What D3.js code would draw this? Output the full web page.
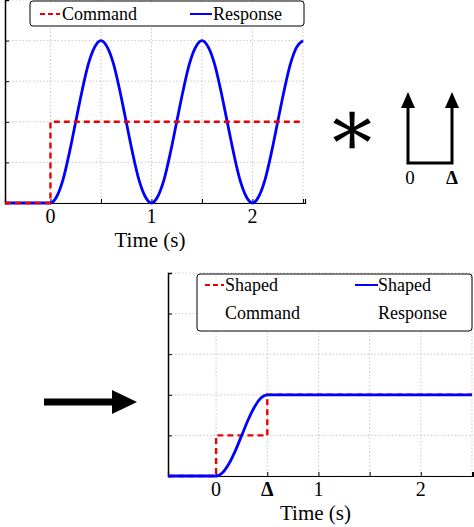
<!DOCTYPE html><html><head><meta charset="utf-8">
<script src="https://cdn.jsdelivr.net/npm/d3@7"></script>
<style>body{margin:0;background:#fff}text{font-family:"Liberation Serif","DejaVu Serif",serif}</style></head><body>
<svg id="c" width="474" height="527"></svg>
<script>
// Data
const yTicks=[0,0.5,1,1.5,2,2.5];
const gridX=[0,0.5,1,1.5,2,2.5];
const topTickLabels=[{v:0,t:"0"},{v:1,t:"1"},{v:2,t:"2"}];
const botTickLabels=[{v:0,t:"0"},{v:0.5,t:"Δ"},{v:1,t:"1"},{v:2,t:"2"}];
const command=[[-0.45,0],[0,0],[0,1],[2.5,1]];
const respT=[-0.45,0,0.0625,0.125,0.1875,0.25,0.3125,0.375,0.4375,0.5,0.5625,0.625,0.6875,0.75,0.8125,0.875,0.9375,1,1.0625,1.125,1.1875,1.25,1.3125,1.375,1.4375,1.5,1.5625,1.625,1.6875,1.75,1.8125,1.875,1.9375,2,2.0625,2.125,2.1875,2.25,2.3125,2.375,2.4375,2.5];
const respV=[0,0,0.08,0.29,0.62,1,1.38,1.71,1.92,2,1.92,1.71,1.38,1,0.62,0.29,0.08,0,0.08,0.29,0.62,1,1.38,1.71,1.92,2,1.92,1.71,1.38,1,0.62,0.29,0.08,0,0.08,0.29,0.62,1,1.38,1.71,1.92,2];
const shapedCmd=[[-0.47,0],[0,0],[0,0.5],[0.5,0.5],[0.5,1],[2.5,1]];
const shapedT=[-0.47,0,0.0625,0.125,0.1875,0.25,0.3125,0.375,0.4375,0.5,2.5];
const shapedV=[0,0,0.04,0.15,0.31,0.5,0.69,0.85,0.96,1,1];

const svg=d3.select("#c");
function panel(x0,x1,y0,y1,xd,ticks,ticksAll){
  const x=d3.scaleLinear().domain(xd).range([x0,x1]);
  const y=d3.scaleLinear().domain([0,2.5]).range([y1,y0]);
  const g=svg.append("g");
  g.selectAll(".gx").data(gridX).join("line").attr("x1",d=>x(d)).attr("x2",d=>x(d)).attr("y1",y0).attr("y2",y1)
   .attr("stroke","#bbb").attr("stroke-dasharray","1.5,2").attr("stroke-width",0.8);
  g.selectAll(".gy").data(yTicks).join("line").attr("x1",x0).attr("x2",x1).attr("y1",d=>y(d)).attr("y2",d=>y(d))
   .attr("stroke","#bbb").attr("stroke-dasharray","1.5,2").attr("stroke-width",0.8);
  g.append("g").attr("transform",`translate(${x0},0)`).call(d3.axisLeft(y).tickValues(yTicks).tickSize(-4).tickFormat(""))
   .call(a=>a.select(".domain").attr("stroke","#000").attr("stroke-width",1.5));
  g.append("g").attr("transform",`translate(0,${y1})`).call(d3.axisBottom(x).tickValues(ticksAll).tickSize(-4).tickFormat(""))
   .call(a=>a.select(".domain").attr("stroke","#000").attr("stroke-width",1.2));
  g.selectAll(".tl").data(ticks).join("text").attr("x",d=>x(d.v)).attr("y",y1+20).attr("text-anchor","middle")
   .attr("font-size",20).attr("font-weight",d=>d.t==="Δ"?"bold":"normal").text(d=>d.t);
  g.append("text").attr("x",(x0+x1)/2-5).attr("y",y1+44).attr("text-anchor","middle").attr("font-size",21).text("Time (s)");
  return {x,y,g};
}
function draw(p,data,color,dash){
  p.g.append("path").datum(data).attr("fill","none").attr("stroke",color).attr("stroke-width",color==="blue"?2.8:2.4)
   .attr("stroke-dasharray",dash).attr("d",d3.line().x(d=>p.x(d[0])).y(d=>p.y(d[1])).curve(color==="blue"?d3.curveMonotoneX:d3.curveLinear));
}
const p1=panel(5,305,0,203,[-0.45,2.52],topTickLabels,[0,0.5,1,1.5,2,2.5]);
draw(p1,respT.map((t,i)=>[t,respV[i]]),"blue",null);
draw(p1,command,"#e00","6,4");
// legend top
p1.g.append("rect").attr("x",30).attr("y",1).attr("width",274).attr("height",25).attr("rx",3).attr("fill","#fff").attr("stroke","#000");
p1.g.append("line").attr("x1",40).attr("x2",60).attr("y1",14).attr("y2",14).attr("stroke","#e00").attr("stroke-width",2).attr("stroke-dasharray","5,3");
p1.g.append("text").attr("x",62).attr("y",20).attr("font-size",18).text("Command");
p1.g.append("line").attr("x1",190).attr("x2",212).attr("y1",14).attr("y2",14).attr("stroke","blue").attr("stroke-width",2);
p1.g.append("text").attr("x",213).attr("y",20).attr("font-size",18).text("Response");

const p2=panel(168,473,273,476,[-0.47,2.51],botTickLabels,[0,0.5,1,1.5,2,2.5]);
draw(p2,shapedCmd,"#e00","6,4");
draw(p2,shapedT.map((t,i)=>[t,shapedV[i]]),"blue",null);
const lg=p2.g;
lg.append("rect").attr("x",197).attr("y",274).attr("width",275).attr("height",57).attr("rx",3).attr("fill","#fff").attr("stroke","#000");
lg.append("line").attr("x1",205).attr("x2",224).attr("y1",285).attr("y2",285).attr("stroke","#e00").attr("stroke-width",2).attr("stroke-dasharray","5,3");
lg.append("text").attr("x",225).attr("y",291).attr("font-size",18).text("Shaped");
lg.append("text").attr("x",225).attr("y",319).attr("font-size",18).text("Command");
lg.append("line").attr("x1",355).attr("x2",378).attr("y1",285).attr("y2",285).attr("stroke","blue").attr("stroke-width",2);
lg.append("text").attr("x",378).attr("y",291).attr("font-size",18).text("Shaped");
lg.append("text").attr("x",378).attr("y",319).attr("font-size",18).text("Response");

// asterisk
svg.append("text").attr("x",352).attr("y",155).attr("text-anchor","middle").attr("font-size",80).attr("font-family","DejaVu Sans").attr("font-weight","300").text("∗");
// impulse diagram
const d=svg.append("g").attr("stroke","#000").attr("stroke-width",3).attr("fill","none");
d.append("path").attr("d","M408,100 L408,163 L452,163 L452,100");
svg.append("path").attr("d","M401,108 L408,92 L415,108 Z");
svg.append("path").attr("d","M445,108 L452,92 L459,108 Z");
svg.append("text").attr("x",410).attr("y",184).attr("text-anchor","middle").attr("font-size",19).text("0");
svg.append("text").attr("x",452).attr("y",184).attr("text-anchor","middle").attr("font-size",19).attr("font-weight","bold").text("Δ");
// arrow
svg.append("line").attr("x1",44).attr("x2",115).attr("y1",402).attr("y2",402).attr("stroke","#000").attr("stroke-width",7);
svg.append("path").attr("d","M112,390 L137,402 L112,414 Z");
</script></body></html>
